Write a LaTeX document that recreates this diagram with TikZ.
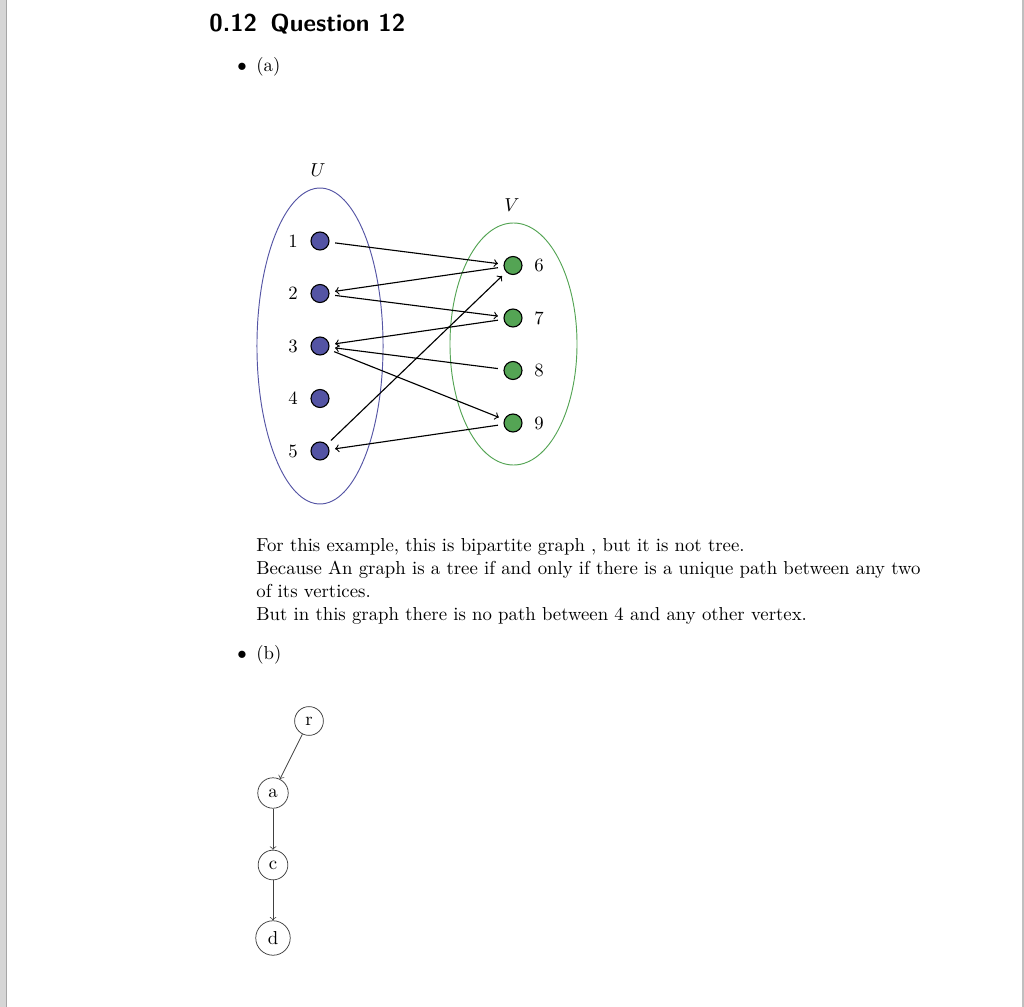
\documentclass[tikz,border=0pt]{standalone}
\usetikzlibrary{shapes.geometric}

\definecolor{ublue}{RGB}{84,84,164}
\definecolor{vgreen}{RGB}{84,164,84}

\tikzset{
  uvert/.style={circle, draw, semithick, fill=ublue, inner sep=0pt, minimum size=9.6pt},
  vvert/.style={circle, draw, semithick, fill=vgreen, inner sep=0pt, minimum size=9.6pt},
  link/.style={->, semithick, shorten >=3pt, shorten <=3pt},
  txt/.style={anchor=base west, inner sep=0pt},
  tvert/.style={circle, draw=black!75, thin},
  tlink/.style={->, draw=black!75, thin}
}

\begin{document}
\begin{tikzpicture}[x=0.533pt, y=-0.533pt]

  \useasboundingbox (0,0) rectangle (1024,1007);
  \fill[black!16] (0,0) rectangle (6,1007);
  \draw[black!35] (6,0) -- (6,1007);
  \fill[black!25] (1022,0) rectangle (1024,1007);

  \newcommand\Dy{52.5}

  % heading and part (a)
  \node[txt, font=\fontsize{13}{15}\selectfont\sffamily\bfseries] (title) at (209,32) {0.12\hspace{0.55em}Question 12};
  \node[anchor=base, inner sep=0pt] (bula) at (242,72) {$\bullet$};
  \node[txt] (parta) at (256,72) {(a)};

  % the two sides
  \node[ellipse, draw=ublue, line width=0.5pt, minimum width=67.2pt, minimum height=168.4pt] (uset) at (320,346) {};
  \node[ellipse, draw=vgreen, line width=0.5pt, minimum width=67.7pt, minimum height=129pt] (vset) at (513.5,344) {};
  \node (ulab) at (318,170) {$U$};
  \node (vlab) at (512,205) {$V$};

  \foreach \i in {1,...,5}{
    \node[uvert] (u\i) at (320,241+\i*\Dy-\Dy) {};
    \node (lu\i) at (293,241+\i*\Dy-\Dy) {\i};
  }
  \foreach \i in {6,...,9}{
    \node[vvert] (v\i) at (513,265.5+\i*\Dy-6*\Dy) {};
    \node (lv\i) at (539,265.5+\i*\Dy-6*\Dy) {\i};
  }

  \draw[link] (u1) -- (v6);
  \draw[link] (v6) -- (u2);
  \draw[link] (u2) -- (v7);
  \draw[link] (v7) -- (u3);
  \draw[link] (v8) -- (u3);
  \draw[link] (u3) -- (v9);
  \draw[link] (u5) -- (v6);
  \draw[link] (v9) -- (u5);

  % answer text
  \node[txt] (line1) at (256,551) {For this example, this is bipartite graph , but it is not tree.};
  \node[txt] (line2) at (256,574) {Because An graph is a tree if and only if there is a unique path between any two};
  \node[txt] (line3) at (256,597) {of its vertices.};
  \node[txt] (line4) at (256,620) {But in this graph there is no path between 4 and any other vertex.};

  % part (b)
  \node[anchor=base, inner sep=0pt] (bulb) at (242,659) {$\bullet$};
  \node[txt] (partb) at (256,659) {(b)};

  \node[tvert] (r) at (309,721) {r};
  \node[tvert] (a) at (273,793) {a};
  \node[tvert] (c) at (273,865) {c};
  \node[tvert] (d) at (273,938) {d};

  \draw[tlink] (r) -- (a);
  \draw[tlink] (a) -- (c);
  \draw[tlink] (c) -- (d);

\end{tikzpicture}
\end{document}
